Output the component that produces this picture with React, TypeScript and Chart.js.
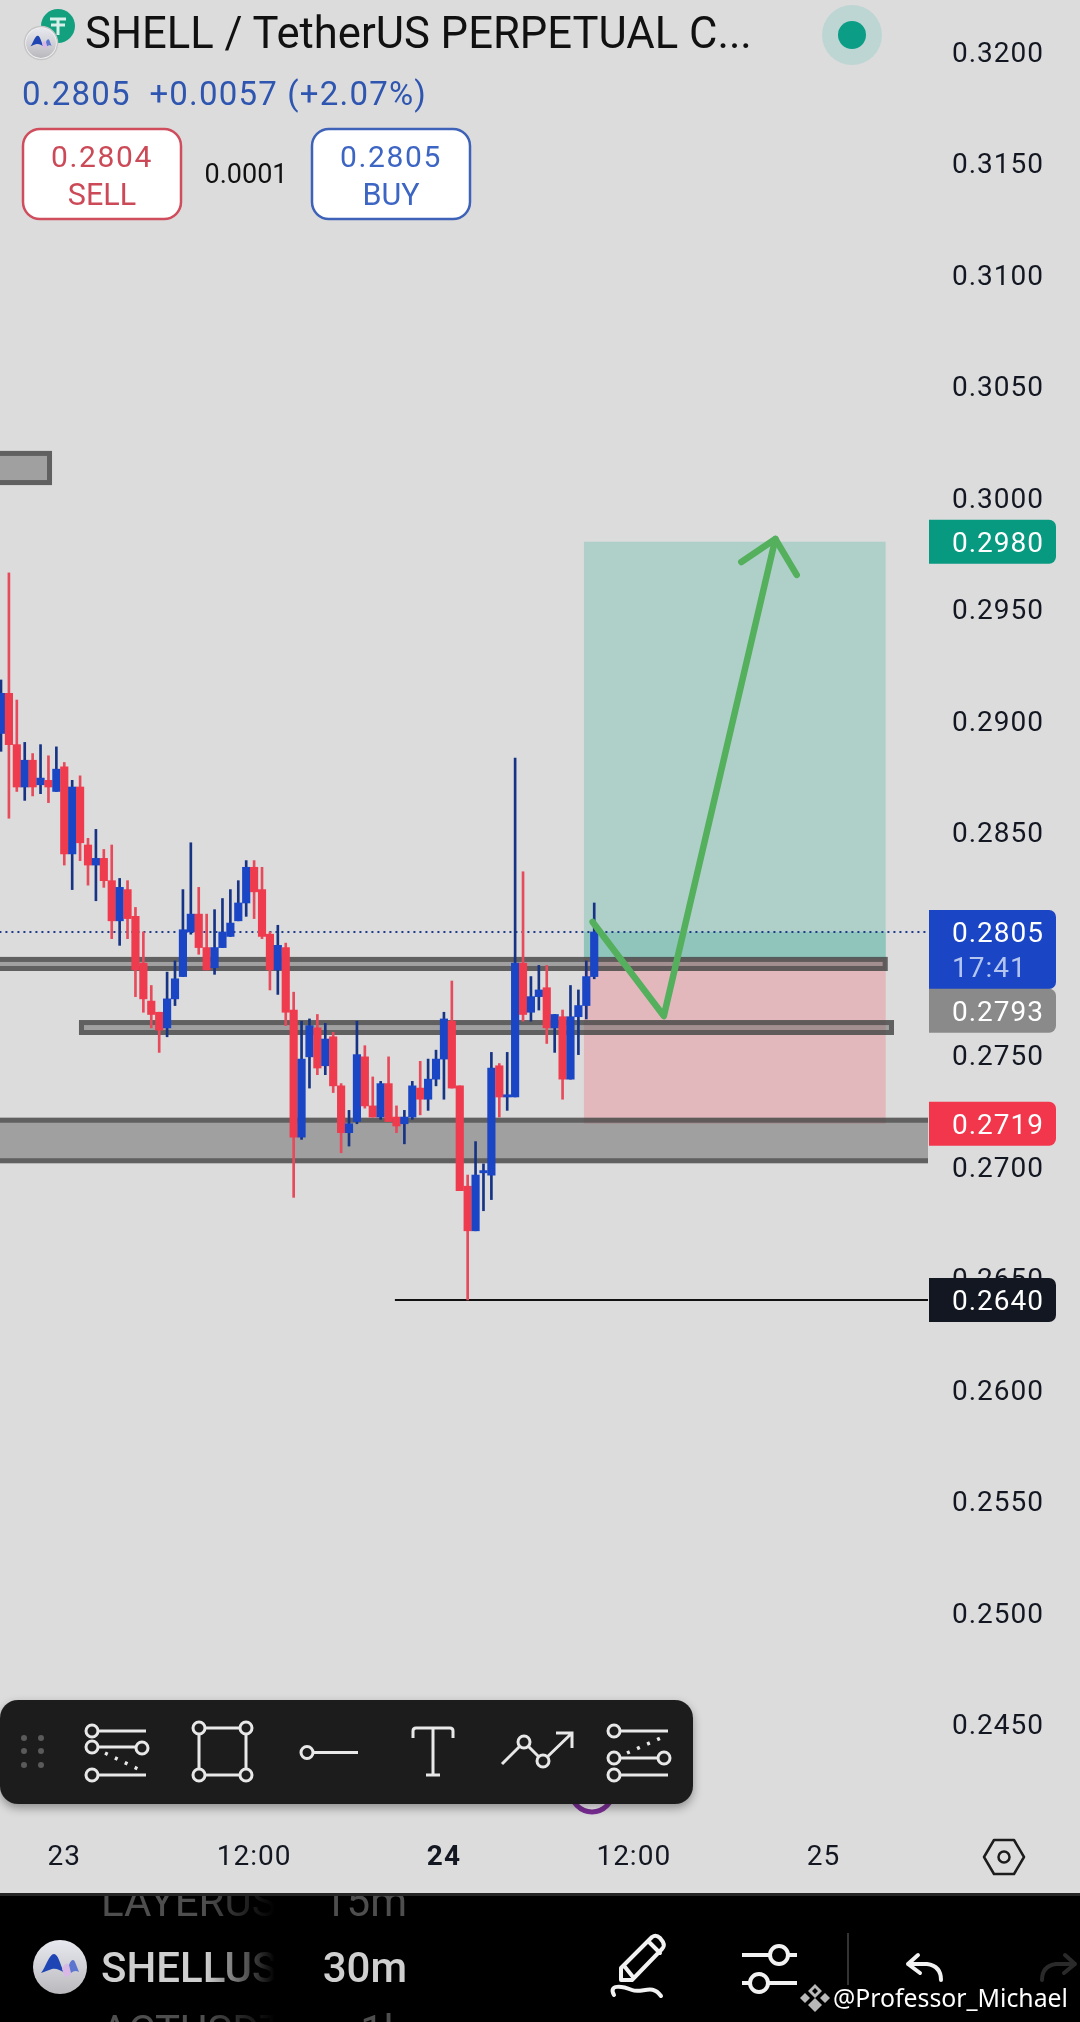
import React, { useEffect, useRef } from "react";
import { Chart, registerables } from "chart.js";

Chart.register(...registerables);

const opens = [0.2894,0.2912,0.2889,0.2870,0.2882,0.2871,0.2873,0.2868,0.2879,0.2840,0.2870,0.2844,0.2835,0.2838,0.2828,0.2810,0.2824,0.2812,0.2791,0.2774,0.2769,0.2762,0.2775,0.2785,0.2805,0.2813,0.2798,0.2789,0.2798,0.2803,0.2810,0.2818,0.2834,0.2824,0.2804,0.2788,0.2798,0.2770,0.2713,0.2749,0.2762,0.2745,0.2758,0.2736,0.2715,0.2720,0.2749,0.2727,0.2722,0.2737,0.2722,0.2719,0.2722,0.2735,0.2730,0.2739,0.2748,0.2765,0.2736,0.2691,0.2671,0.2697,0.2696,0.2745,0.2731,0.2731,0.2791,0.2769,0.2776,0.2780,0.2762,0.2767,0.2739,0.2767,0.2772,0.2785];
const highs = [0.2918,0.2966,0.2909,0.2890,0.2885,0.2889,0.2884,0.2888,0.2881,0.2873,0.2875,0.2847,0.2851,0.2842,0.2844,0.2829,0.2828,0.2816,0.2805,0.2781,0.2769,0.2787,0.2792,0.2824,0.2845,0.2825,0.2813,0.2815,0.2820,0.2824,0.2828,0.2837,0.2837,0.2834,0.2805,0.2808,0.2800,0.2778,0.2765,0.2766,0.2768,0.2764,0.2760,0.2737,0.2725,0.2765,0.2754,0.2740,0.2738,0.2749,0.2727,0.2725,0.2738,0.2747,0.2748,0.2752,0.2769,0.2783,0.2736,0.2696,0.2711,0.2701,0.2751,0.2746,0.2751,0.2883,0.2832,0.2785,0.2790,0.2790,0.2768,0.2770,0.2781,0.2779,0.2792,0.2818];
const lows = [0.2886,0.2856,0.2868,0.2864,0.2866,0.2867,0.2863,0.2868,0.2835,0.2824,0.2837,0.2826,0.2819,0.2825,0.2802,0.2799,0.2802,0.2776,0.2769,0.2762,0.2751,0.2758,0.2772,0.2785,0.2804,0.2795,0.2788,0.2786,0.2798,0.2803,0.2810,0.2812,0.2811,0.2802,0.2779,0.2777,0.2763,0.2686,0.2712,0.2735,0.2741,0.2741,0.2733,0.2706,0.2709,0.2719,0.2726,0.2722,0.2721,0.2720,0.2715,0.2710,0.2721,0.2723,0.2725,0.2736,0.2730,0.2735,0.2689,0.2640,0.2671,0.2680,0.2685,0.2722,0.2725,0.2731,0.2765,0.2765,0.2770,0.2755,0.2751,0.2730,0.2739,0.2750,0.2766,0.2784];
const closes = [0.2912,0.2889,0.2870,0.2882,0.2870,0.2874,0.2870,0.2878,0.2840,0.2870,0.2845,0.2835,0.2838,0.2828,0.2810,0.2825,0.2811,0.2788,0.2775,0.2768,0.2761,0.2775,0.2784,0.2806,0.2813,0.2798,0.2788,0.2798,0.2805,0.2809,0.2818,0.2834,0.2823,0.2803,0.2788,0.2799,0.2769,0.2713,0.2748,0.2763,0.2744,0.2757,0.2736,0.2715,0.2719,0.2750,0.2727,0.2722,0.2737,0.2720,0.2718,0.2722,0.2736,0.2730,0.2739,0.2748,0.2766,0.2735,0.2689,0.2671,0.2696,0.2698,0.2744,0.2731,0.2732,0.2791,0.2768,0.2776,0.2779,0.2762,0.2768,0.2739,0.2767,0.2772,0.2785,0.2805];

const priceTicks = [0.32,0.315,0.31,0.305,0.3,0.295,0.29,0.285,0.28,0.275,0.27,0.265,0.26,0.255,0.25,0.245];
const timeTickIndexes = [8, 32, 56, 80, 104];
const timeTickLabels = ["23", "12:00", "24", "12:00", "25"];

const lastPrice = 0.2805;
const entryPrice = 0.2793;
const targetPrice = 0.298;
const stopPrice = 0.2719;
const lowMarkPrice = 0.264;

const positionFrom = 73.7;
const positionTo = 111.85;

const zoneTops = [0.30207, 0.27938, 0.27655, 0.27217];
const zoneBottoms = [0.30054, 0.27875, 0.27588, 0.27013];
const zoneFrom = [-10, -10, 9.86, -10];
const zoneTo = [6.45, 112.1, 112.9, 125];

const arrowShaftX = [74.8, 83.8, 97.9];
const arrowShaftY = [0.28095, 0.27673, 0.29812];
const arrowHeadX = [93.6, 97.9, 100.6];
const arrowHeadY = [0.29709, 0.29812, 0.29651];

const lowMarkX = [49.8, 117.3];
const lastPriceX = [-0.2, 117.3];

const tagValues = ["0.2980", "0.2805", "0.2793", "0.2719", "0.2640"];
const tagPrices = [targetPrice, lastPrice, entryPrice, stopPrice, lowMarkPrice];
const tagColours = ["#089981", "#1a45c4", "#8a8a8a", "#f2364c", "#131722"];
const tagShift = [0, 0, 52, 0, 0];
const countdown = "17:41";

const BLUE = "#1a45c4";
const RED = "#ee3b4e";
const BLUE_WICK = "#163384";
const RED_WICK = "#e64a5b";
const FONT = "Roboto";

const clearPadding = (scale: any) => {
  scale.paddingTop = 0;
  scale.paddingBottom = 0;
  scale.paddingLeft = 0;
  scale.paddingRight = 0;
};

const overlays = {
  id: "overlays",
  beforeDraw(chart: any) {
    const { ctx, width, height } = chart;
    ctx.save();
    ctx.fillStyle = "#dcdcdc";
    ctx.fillRect(0, 0, width, height);
    ctx.restore();
    ctx.letterSpacing = "1px";
    chart.scales.y.getLabelItems().forEach((item: any) => {
      const t = item.options.translation;
      item.options.translation = [t[0], t[1] + 3.5];
    });
  },
  beforeDatasetsDraw(chart: any) {
    const { ctx, scales, chartArea } = chart;
    const x = scales.x;
    const y = scales.y;
    ctx.save();
    ctx.beginPath();
    ctx.rect(chartArea.left, chartArea.top, chartArea.right - chartArea.left, chartArea.bottom - chartArea.top);
    ctx.clip();
    const x0 = x.getPixelForValue(positionFrom);
    const x1 = x.getPixelForValue(positionTo);
    const yT = y.getPixelForValue(targetPrice);
    const yE = y.getPixelForValue(entryPrice);
    const yS = y.getPixelForValue(stopPrice);
    const yL = y.getPixelForValue(lastPrice);
    ctx.fillStyle = "#afd0c9";
    ctx.fillRect(x0, yT, x1 - x0, yE - yT);
    ctx.fillStyle = "#8fc5bb";
    ctx.fillRect(x0, yL, x1 - x0, yE - yL);
    ctx.fillStyle = "#e3b8bd";
    ctx.fillRect(x0, yE, x1 - x0, yS - yE);
    zoneTops.forEach((top, i) => {
      const a = x.getPixelForValue(zoneFrom[i]);
      const b = x.getPixelForValue(zoneTo[i]);
      const t = y.getPixelForValue(top);
      const u = y.getPixelForValue(zoneBottoms[i]);
      ctx.fillStyle = "rgba(100,100,100,0.5)";
      ctx.fillRect(a, t, b - a, u - t);
      ctx.strokeStyle = "rgba(70,70,70,0.72)";
      ctx.lineWidth = 5;
      ctx.strokeRect(a + 2.5, t + 2.5, b - a - 5, u - t - 5);
    });
    ctx.restore();
  },
  afterDraw(chart: any) {
    const { ctx, scales } = chart;
    const y = scales.y;
    ctx.save();
    ctx.textAlign = "left";
    ctx.textBaseline = "alphabetic";
    ctx.letterSpacing = "1px";
    tagValues.forEach((label, i) => {
      const cy = y.getPixelForValue(tagPrices[i]) + tagShift[i];
      const isLast = label === "0.2805";
      const h = isLast ? 79 : 44;
      ctx.fillStyle = tagColours[i];
      ctx.beginPath();
      ctx.roundRect(929, cy - 22, 127, h, [0, 7, 7, 0]);
      ctx.fill();
      ctx.font = `28px ${FONT}`;
      ctx.fillStyle = "#ffffff";
      ctx.fillText(label, 952, cy + 10);
      if (isLast) {
        ctx.fillStyle = "#b4c5ef";
        ctx.fillText(countdown, 952, cy + 45);
      }
    });
    ctx.restore();
    ctx.letterSpacing = "0px";
  },
};

function Logo({ cx, cy, r }: { cx: number; cy: number; r: number }) {
  const s = r / 27;
  return (
    <g transform={`translate(${cx} ${cy}) scale(${s})`}>
      <circle r="27" fill="url(#logoFill)" />
      <path d="M-19 6 C-14 0 -11 -13 -6 -13 C-1 -13 1 2 5 6 C0 3 -4 1 -8 2 C-12 3 -15 5 -19 6 Z" fill="#1f45b5" />
      <path d="M2 2 C5 -4 7 -4 9 -2 L11 8 C8 8 6 11 5 10 Z" fill="#d9b8e6" />
      <path d="M9 -2 C11 -8 14 -8 15 -5 L19 5 C16 3 13 4 11 6 Z" fill="#5c76d0" />
    </g>
  );
}

function Knob({ cx, cy, r = 6 }: { cx: number; cy: number; r?: number }) {
  return <circle cx={cx} cy={cy} r={r} fill="#1e1e1e" stroke="#e8e8e8" strokeWidth="3" />;
}

function Overlay() {
  const line = { stroke: "#e8e8e8", strokeWidth: 3, fill: "none" };
  const white = { stroke: "#f2f2f2", strokeWidth: 4, fill: "none", strokeLinecap: "round" as const, strokeLinejoin: "round" as const };
  return (
    <svg width="1080" height="2022" style={{ position: "absolute", left: 0, top: 0, pointerEvents: "none" }} fontFamily={FONT}>
      <defs>
        <linearGradient id="logoFill" x1="0" y1="0" x2="0" y2="1">
          <stop offset="0" stopColor="#e8e8f0" />
          <stop offset="1" stopColor="#b9b9bd" />
        </linearGradient>
        <linearGradient id="fadeA" x1="101" y1="0" x2="275" y2="0" gradientUnits="userSpaceOnUse">
          <stop offset="0.6" stopColor="#cfcfcf" />
          <stop offset="1" stopColor="#000" />
        </linearGradient>
        <linearGradient id="fadeB" x1="101" y1="0" x2="275" y2="0" gradientUnits="userSpaceOnUse">
          <stop offset="0.6" stopColor="#4e4e4e" />
          <stop offset="1" stopColor="#000" />
        </linearGradient>
        <clipPath id="listClip"><rect x="0" y="1896" width="1080" height="126" /></clipPath>
        <filter id="toolShadow" x="-5%" y="-20%" width="110%" height="150%">
          <feDropShadow dx="0" dy="4" stdDeviation="5" floodColor="#000" floodOpacity="0.35" />
        </filter>
      </defs>

      <circle cx="58" cy="26" r="17" fill="#13a07f" />
      <path d="M50 19 H66 M58 19 V35 M51 25 H65" stroke="#d9efe9" strokeWidth="3" fill="none" />
      <circle cx="41" cy="43" r="16.5" fill="#f4f4f6" stroke="#c6c6c6" strokeWidth="1.5" />
      <Logo cx={41} cy={43} r={15} />
      <text x="85" y="48" fontSize="43.6" fill="#111">SHELL / TetherUS PERPETUAL C...</text>
      <circle cx="852" cy="35" r="30" fill="#bdd6d3" />
      <circle cx="852" cy="35" r="14" fill="#0c9d87" />

      <text x="22" y="105" fontSize="33" letterSpacing="1.2" fill="#2e55b0" xmlSpace="preserve">0.2805  +0.0057 (+2.07%)</text>

      <rect x="23" y="129" width="158" height="90" rx="17" fill="#fff" stroke="#cf4d5c" strokeWidth="2.5" />
      <text x="102" y="167" fontSize="30" letterSpacing="1.6" textAnchor="middle" fill="#cc4a57">0.2804</text>
      <text x="102" y="205" fontSize="30.5" textAnchor="middle" fill="#cc4a57">SELL</text>
      <text x="246" y="183" fontSize="27" textAnchor="middle" fill="#111">0.0001</text>
      <rect x="312" y="129" width="158" height="90" rx="17" fill="#fff" stroke="#3d62b8" strokeWidth="2.5" />
      <text x="391" y="167" fontSize="30" letterSpacing="1.6" textAnchor="middle" fill="#3d65c3">0.2805</text>
      <text x="391" y="205" fontSize="30.5" textAnchor="middle" fill="#3d65c3">BUY</text>

      <circle cx="592" cy="1791" r="21" fill="#f3f0f5" stroke="#7b2d96" strokeWidth="5" />
      <rect x="0" y="1700" width="693" height="104" rx="18" fill="#1e1e1e" filter="url(#toolShadow)" />
      {[24, 41].map((cx) => [1738, 1751, 1765].map((cy) => <circle key={`${cx}-${cy}`} cx={cx} cy={cy} r="3" fill="#5a5a5a" />))}

      <path d="M92 1731 H146 M92 1747 H142 M92 1775 H146" {...line} />
      <path d="M105 1753 L140 1770" stroke="#e8e8e8" strokeWidth="3.5" strokeDasharray="3 8" fill="none" />
      <Knob cx={92} cy={1731} /><Knob cx={92} cy={1747} /><Knob cx={142} cy={1748} /><Knob cx={92} cy={1775} />

      <path d="M199 1728 H246 V1775 H199 Z" {...line} />
      <Knob cx={199} cy={1728} /><Knob cx={246} cy={1728} /><Knob cx={199} cy={1775} /><Knob cx={246} cy={1775} />

      <path d="M307 1752.5 H358" {...line} />
      <Knob cx={307} cy={1752.5} />

      <path d="M413 1738 V1731 Q413 1728 416 1728 H450 Q453 1728 453 1731 V1738 M433 1728 V1775 M426 1775 H440" {...line} />

      <path d="M502 1764 L524 1742 L543 1761 L572 1733 M556 1733 H572 V1748" {...line} />
      <Knob cx={524} cy={1742} /><Knob cx={543} cy={1761} />

      <path d="M614 1731 H668 M614 1758 H664 M614 1775 H668" {...line} />
      <path d="M627 1753 L663 1737" stroke="#e8e8e8" strokeWidth="3.5" strokeDasharray="3 8" fill="none" />
      <Knob cx={614} cy={1731} /><Knob cx={614} cy={1758} /><Knob cx={664} cy={1758} /><Knob cx={614} cy={1775} />

      <path d="M984 1857 L994 1840 H1014 L1024 1857 L1014 1874 H994 Z" fill="none" stroke="#1c1c1c" strokeWidth="2.5" strokeLinejoin="round" />
      <circle cx="1004" cy="1857" r="5.5" fill="none" stroke="#1c1c1c" strokeWidth="2.5" />

      <rect x="0" y="1893" width="1080" height="129" fill="#000" />
      <rect x="0" y="1893" width="1080" height="3" fill="#252525" />
      <g clipPath="url(#listClip)" fontSize="42">
        <text x="101" y="1916" fill="url(#fadeB)">LAYERUSDT</text>
        <text x="407" y="1916" fill="#4e4e4e" textAnchor="end">15m</text>
        <text x="101" y="1982" fontWeight="500" fill="url(#fadeA)">SHELLUSDT</text>
        <text x="407" y="1982" fontWeight="500" fill="#cfcfcf" textAnchor="end">30m</text>
        <text x="101" y="2045" fill="url(#fadeB)">ACTUSDT</text>
        <text x="407" y="2045" fill="#4e4e4e" textAnchor="end">1h</text>
        <rect x="274" y="1896" width="30" height="126" fill="#000" />
      </g>
      <Logo cx={60} cy={1967} r={27} />

      <path d="M621 1968 L652 1937 Q656 1934 660 1938 L663 1942 Q665 1946 662 1949 L632 1980 H621 Z M648 1941 L660 1953 M625 1967 L633 1977" {...white} />
      <path d="M614 1995 C608 1984 622 1986 632 1990 C642 1994 652 1983 661 1996" {...white} />
      <path d="M742 1955 H770 M788 1955 H797 M742 1983 H750 M768 1983 H797" stroke="#f2f2f2" strokeWidth="4" fill="none" />
      <circle cx="779" cy="1955" r="9" fill="none" stroke="#f2f2f2" strokeWidth="4" />
      <circle cx="759" cy="1983" r="9" fill="none" stroke="#f2f2f2" strokeWidth="4" />
      <path d="M848 1933 V1985" stroke="#333" strokeWidth="2" />
      <path d="M941 1980 Q941 1966 927 1964 H908 M918 1955 L908 1964 L920 1973" {...white} />
      <path d="M1042 1980 Q1042 1966 1056 1964 H1075 M1065 1955 L1075 1964 L1064 1973" {...white} stroke="#2a2a2a" />

      <g fill="#b9b9b9">
        <path d="M815 1984 L822 1991 L815 1998 L808 1991 Z M815 1988 L812 1991 L815 1994 L818 1991 Z" fillRule="evenodd" />
        <path d="M805 1993 L810 1998 L805 2003 L800 1998 Z" />
        <path d="M825 1993 L830 1998 L825 2003 L820 1998 Z" />
        <path d="M815 1998 L822 2005 L815 2012 L808 2005 Z" />
      </g>
      <text x="833" y="2007" fontSize="24.8" fontFamily="Noto Sans" fill="#fff">@Professor_Michael</text>
    </svg>
  );
}

export default function App() {
  const ref = useRef<HTMLCanvasElement | null>(null);
  useEffect(() => {
    document.body.style.margin = "0";
    const indexes = opens.map((_, i) => i);
    const up = (i: number) => closes[i] >= opens[i];
    const chart = new Chart(ref.current as HTMLCanvasElement, {
      type: "bar",
      data: {
        datasets: [
          {
            type: "line",
            data: arrowShaftX.map((x, i) => ({ x, y: arrowShaftY[i] })),
            borderColor: "#55b05e",
            borderWidth: 6.5,
            pointRadius: 0,
            borderCapStyle: "round",
            borderJoinStyle: "round",
            order: 0,
          },
          {
            type: "line",
            data: arrowHeadX.map((x, i) => ({ x, y: arrowHeadY[i] })),
            borderColor: "#55b05e",
            borderWidth: 6.5,
            pointRadius: 0,
            borderCapStyle: "round",
            borderJoinStyle: "round",
            order: 0,
          },
          {
            type: "bar",
            data: indexes.map((i) => ({ x: i, y: [opens[i], closes[i]] })),
            backgroundColor: indexes.map((i) => (up(i) ? BLUE : RED)),
            barThickness: 7.5,
            grouped: false,
            borderWidth: 0,
            order: 1,
          },
          {
            type: "bar",
            data: indexes.map((i) => ({ x: i, y: [lows[i], highs[i]] })),
            backgroundColor: indexes.map((i) => (up(i) ? BLUE_WICK : RED_WICK)),
            barThickness: 2,
            grouped: false,
            borderWidth: 0,
            order: 2,
          },
          {
            type: "line",
            data: lastPriceX.map((x) => ({ x, y: lastPrice })),
            borderColor: "#1f3a8a",
            borderWidth: 2,
            borderDash: [2, 4],
            pointRadius: 0,
            order: 3,
          },
          {
            type: "line",
            data: lowMarkX.map((x) => ({ x, y: lowMarkPrice })),
            borderColor: "#111111",
            borderWidth: 2,
            pointRadius: 0,
            order: 3,
          },
        ] as any,
      },
      options: {
        animation: false,
        responsive: false,
        devicePixelRatio: 1,
        layout: { padding: 0, autoPadding: false },
        plugins: { legend: { display: false }, tooltip: { enabled: false }, title: { display: false } },
        events: [],
        scales: {
          x: {
            type: "linear",
            offset: false,
            min: -0.126,
            max: 117.2,
            grid: { display: false, drawTicks: false, offset: false },
            border: { display: false },
            afterBuildTicks(scale: any) {
              scale.ticks = timeTickIndexes.map((value) => ({ value }));
            },
            afterFit(scale: any) {
              scale.height = 202;
              clearPadding(scale);
            },
            ticks: {
              autoSkip: false,
              maxRotation: 0,
              padding: 21,
              color: "#131722",
              font: (c: any) => ({
                family: FONT,
                size: 28,
                weight: c.tick && c.tick.value === 56 ? "bold" : "normal",
              }),
              callback: (v: any) => timeTickLabels[timeTickIndexes.indexOf(Number(v))],
            },
          },
          y: {
            type: "linear",
            position: "right",
            beginAtZero: false,
            min: 0.24068,
            max: 0.32229,
            grid: { display: false, drawTicks: false },
            border: { display: false },
            afterBuildTicks(scale: any) {
              scale.ticks = priceTicks.map((value) => ({ value }));
            },
            afterFit(scale: any) {
              scale.width = 152;
              clearPadding(scale);
            },
            ticks: {
              autoSkip: false,
              padding: 24,
              color: "#131722",
              font: { family: FONT, size: 28 },
              callback: (v: any) => Number(v).toFixed(4),
            },
          },
        },
      } as any,
      plugins: [overlays],
    });
    return () => chart.destroy();
  }, []);

  return (
    <div style={{ position: "absolute", left: 0, top: 0, width: 1080, height: 2022, overflow: "hidden" }}>
      <canvas ref={ref} width={1080} height={2022} style={{ display: "block" }} />
      <Overlay />
    </div>
  );
}
